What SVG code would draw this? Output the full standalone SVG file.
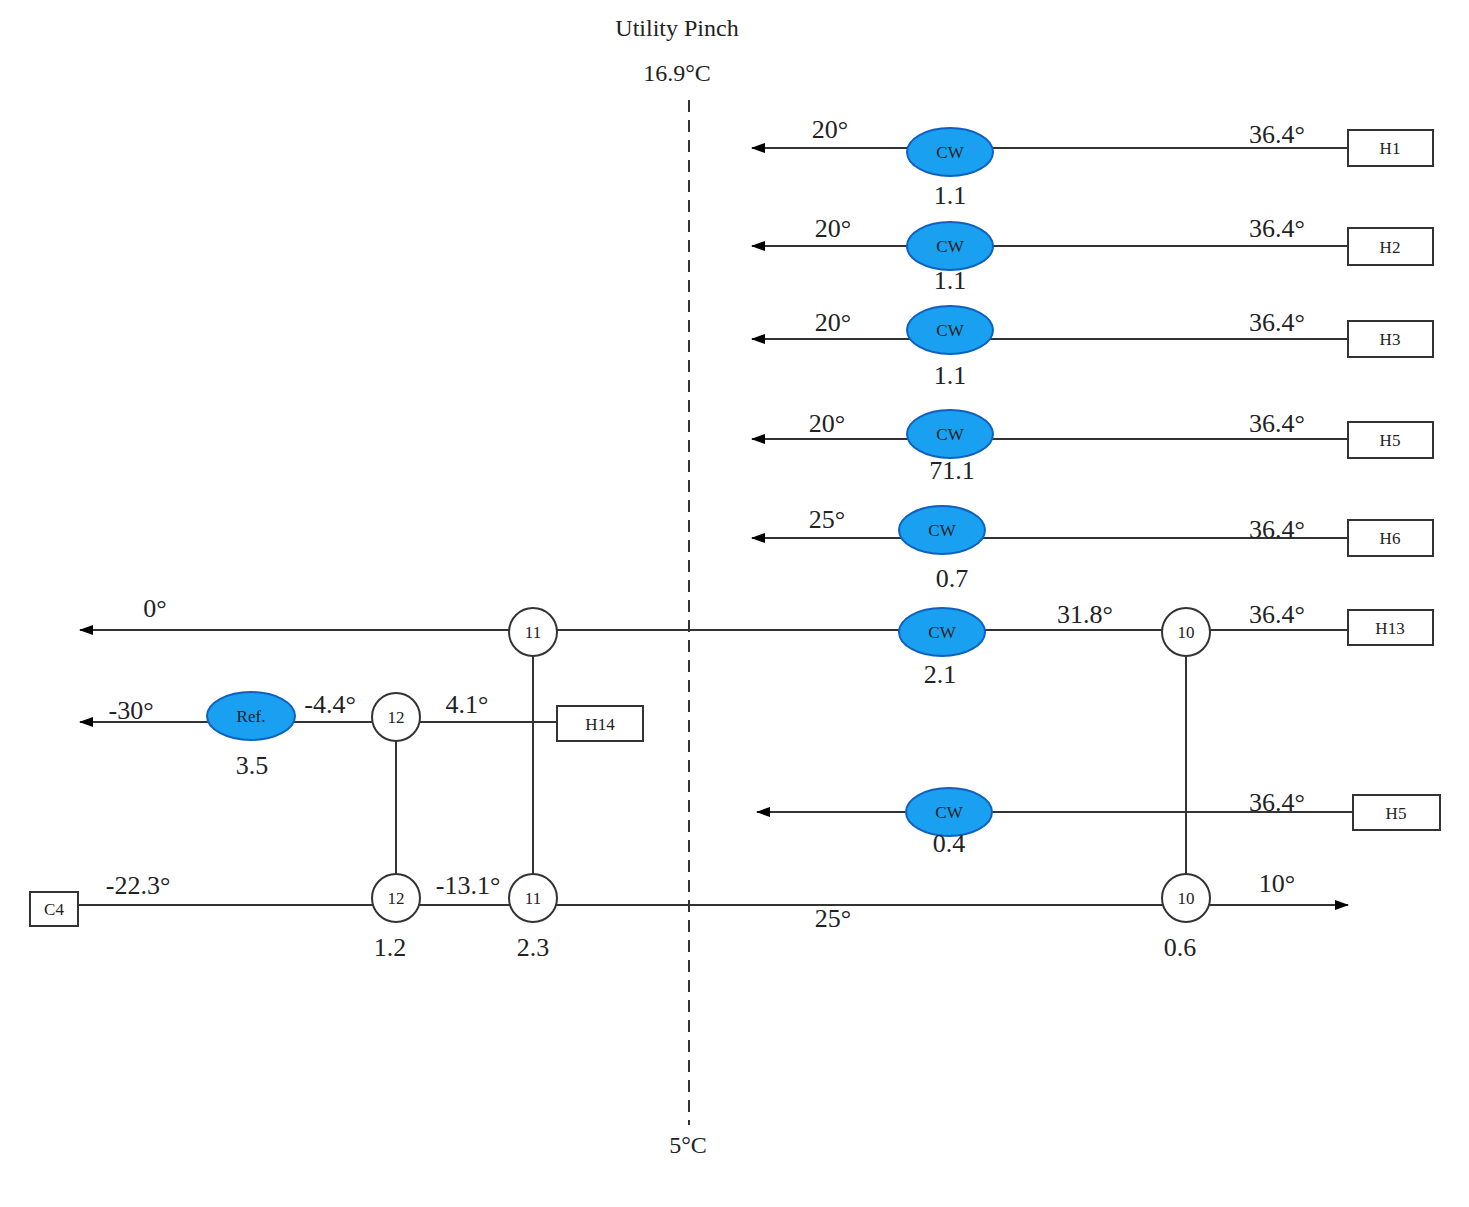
<svg xmlns="http://www.w3.org/2000/svg" width="1469" height="1207" viewBox="0 0 1469 1207">
<defs>
<marker id="ar" markerWidth="14" markerHeight="10" refX="13" refY="5" orient="auto" markerUnits="userSpaceOnUse"><path d="M0,0 L14,5 L0,10 Z" fill="#000"/></marker>
</defs>
<style>
text{font-family:"Liberation Serif","Times New Roman",serif;fill:#222;text-anchor:middle}
.l{font-size:26px}
.s{font-size:17px}
.ln{stroke:#333;stroke-width:2;fill:none}
.cw{fill:#1aa0f0;stroke:#1060c0;stroke-width:2}
.c{fill:#fff;stroke:#333;stroke-width:2}
.b{fill:#fff;stroke:#333;stroke-width:2}
</style>
<rect width="1469" height="1207" fill="#fff"/>
<text class="l" x="677" y="36" style="font-size:24px">Utility Pinch</text>
<text class="l" x="677" y="81" style="font-size:24px">16.9°C</text>
<text class="l" x="688" y="1153" style="font-size:24px">5°C</text>
<g id="connectors">
<line x1="689" y1="100" x2="689" y2="1125" stroke="#333" stroke-width="2" stroke-dasharray="12,8"/>
<line class="ln" x1="1348" y1="148" x2="752" y2="148" marker-end="url(#ar)"/>
<line class="ln" x1="1348" y1="246" x2="752" y2="246" marker-end="url(#ar)"/>
<line class="ln" x1="1348" y1="339" x2="752" y2="339" marker-end="url(#ar)"/>
<line class="ln" x1="1348" y1="439" x2="752" y2="439" marker-end="url(#ar)"/>
<line class="ln" x1="1348" y1="538" x2="752" y2="538" marker-end="url(#ar)"/>
<line class="ln" x1="1348" y1="630" x2="80" y2="630" marker-end="url(#ar)"/>
<line class="ln" x1="557" y1="722" x2="80" y2="722" marker-end="url(#ar)"/>
<line class="ln" x1="1353" y1="812" x2="757" y2="812" marker-end="url(#ar)"/>
<line class="ln" x1="78" y1="905" x2="1348" y2="905" marker-end="url(#ar)"/>
<line class="ln" x1="396" y1="717" x2="396" y2="898"/>
<line class="ln" x1="533" y1="632" x2="533" y2="898"/>
<line class="ln" x1="1186" y1="632" x2="1186" y2="898"/>
</g>
<g id="H1"><rect class="b" x="1348" y="130" width="85" height="36"/><text class="s" x="1390" y="154">H1</text></g>
<g id="H2"><rect class="b" x="1348" y="228" width="85" height="37"/><text class="s" x="1390" y="253">H2</text></g>
<g id="H3"><rect class="b" x="1348" y="321" width="85" height="36"/><text class="s" x="1390" y="345">H3</text></g>
<g id="H5a"><rect class="b" x="1348" y="422" width="85" height="36"/><text class="s" x="1390" y="446">H5</text></g>
<g id="H6"><rect class="b" x="1348" y="520" width="85" height="36"/><text class="s" x="1390" y="544">H6</text></g>
<g id="H13"><rect class="b" x="1348" y="610" width="85" height="35"/><text class="s" x="1390" y="634">H13</text></g>
<g id="H14"><rect class="b" x="557" y="706" width="86" height="35"/><text class="s" x="600" y="730">H14</text></g>
<g id="H5b"><rect class="b" x="1353" y="795" width="87" height="35"/><text class="s" x="1396" y="819">H5</text></g>
<g id="C4"><rect class="b" x="30" y="892" width="48" height="34"/><text class="s" x="54" y="915">C4</text></g>
<g id="cw1"><ellipse class="cw" cx="950" cy="152" rx="43" ry="24"/><text class="s" x="950" y="158">CW</text></g>
<g id="cw2"><ellipse class="cw" cx="950" cy="246" rx="43" ry="24"/><text class="s" x="950" y="252">CW</text></g>
<g id="cw3"><ellipse class="cw" cx="950" cy="330" rx="43" ry="24"/><text class="s" x="950" y="336">CW</text></g>
<g id="cw5"><ellipse class="cw" cx="950" cy="434" rx="43" ry="24"/><text class="s" x="950" y="440">CW</text></g>
<g id="cw6"><ellipse class="cw" cx="942" cy="530" rx="43" ry="24"/><text class="s" x="942" y="536">CW</text></g>
<g id="cw13"><ellipse class="cw" cx="942" cy="632" rx="43" ry="24"/><text class="s" x="942" y="638">CW</text></g>
<g id="cw5b"><ellipse class="cw" cx="949" cy="812" rx="43" ry="24"/><text class="s" x="949" y="818">CW</text></g>
<g id="ref"><ellipse class="cw" cx="251" cy="716" rx="44" ry="24"/><text class="s" x="251" y="722">Ref.</text></g>
<g id="x11a"><circle class="c" cx="533" cy="632" r="24"/><text class="s" x="533" y="638">11</text></g>
<g id="x10a"><circle class="c" cx="1186" cy="632" r="24"/><text class="s" x="1186" y="638">10</text></g>
<g id="x12a"><circle class="c" cx="396" cy="717" r="24"/><text class="s" x="396" y="723">12</text></g>
<g id="x12b"><circle class="c" cx="396" cy="898" r="24"/><text class="s" x="396" y="904">12</text></g>
<g id="x11b"><circle class="c" cx="533" cy="898" r="24"/><text class="s" x="533" y="904">11</text></g>
<g id="x10b"><circle class="c" cx="1186" cy="898" r="24"/><text class="s" x="1186" y="904">10</text></g>
<g id="labels">
<text class="l" x="830" y="138">20°</text><text class="l" x="1277" y="143">36.4°</text><text class="l" x="950" y="204">1.1</text>
<text class="l" x="833" y="237">20°</text><text class="l" x="1277" y="237">36.4°</text><text class="l" x="950" y="289">1.1</text>
<text class="l" x="833" y="331">20°</text><text class="l" x="1277" y="331">36.4°</text><text class="l" x="950" y="384">1.1</text>
<text class="l" x="827" y="432">20°</text><text class="l" x="1277" y="432">36.4°</text><text class="l" x="952" y="479">71.1</text>
<text class="l" x="827" y="528">25°</text><text class="l" x="1277" y="538">36.4°</text><text class="l" x="952" y="587">0.7</text>
<text class="l" x="155" y="617">0°</text><text class="l" x="1085" y="623">31.8°</text><text class="l" x="1277" y="623">36.4°</text><text class="l" x="940" y="683">2.1</text>
<text class="l" x="131" y="719">-30°</text><text class="l" x="330" y="713">-4.4°</text><text class="l" x="467" y="713">4.1°</text><text class="l" x="252" y="774">3.5</text>
<text class="l" x="1277" y="811">36.4°</text><text class="l" x="949" y="852">0.4</text>
<text class="l" x="138" y="894">-22.3°</text><text class="l" x="468" y="894">-13.1°</text><text class="l" x="833" y="927">25°</text><text class="l" x="1277" y="892">10°</text>
<text class="l" x="390" y="956">1.2</text><text class="l" x="533" y="956">2.3</text><text class="l" x="1180" y="956">0.6</text>
</g>
</svg>
